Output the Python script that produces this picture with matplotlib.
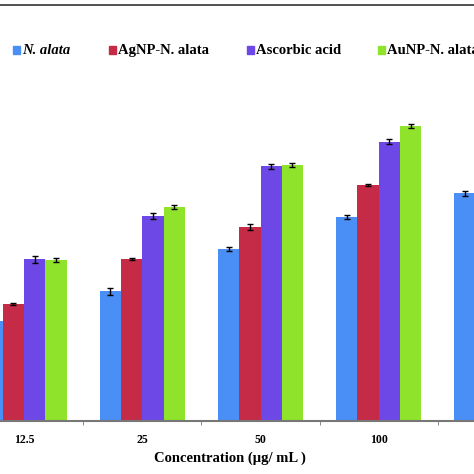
import numpy as np
import matplotlib
matplotlib.use('Agg')
import matplotlib.pyplot as plt

# --- data (% scale) ---
concentrations = ['12.5', '25', '50', '100', '200']
series_names = ['N. alata', 'AgNP-N. alata', 'Ascorbic acid', 'AuNP-N. alata']
n_alata = [24.0, 31.2, 41.3, 49.0, 54.8]
agnp = [28.1, 38.9, 46.6, 56.7, np.nan]
ascorbic = [38.9, 49.3, 61.3, 67.1, np.nan]
aunp = [38.7, 51.4, 61.5, 70.9, np.nan]
n_alata_err = [0.6, 0.8, 0.5, 0.5, 0.6]
agnp_err = [0.3, 0.3, 0.7, 0.3, np.nan]
ascorbic_err = [0.8, 0.7, 0.6, 0.6, np.nan]
aunp_err = [0.4, 0.5, 0.5, 0.5, np.nan]

COLORS = ['#4a8ff5', '#c52b47', '#6e48e6', '#8fe32a']

plt.rcParams['font.family'] = 'serif'
plt.rcParams['font.serif'] = ['Liberation Serif', 'DejaVu Serif']

fig = plt.figure(figsize=(4.74, 4.74), dpi=100)
# axes deliberately larger than the figure: the reference is a crop
ax = fig.add_axes([-0.0738, 0.1118, 1.247, 0.8776])

x = np.arange(len(concentrations))
width = 0.18
all_vals = [n_alata, agnp, ascorbic, aunp]
all_errs = [n_alata_err, agnp_err, ascorbic_err, aunp_err]
for i, (vals, errs) in enumerate(zip(all_vals, all_errs)):
    ax.bar(x + (i - 1.5) * width, vals, width, color=COLORS[i],
           yerr=errs, capsize=2.2, error_kw={'elinewidth': 1.0, 'capthick': 1.0, 'ecolor': 'black'},
           label=series_names[i])

ax.set_xlim(-0.5, 4.5)
ax.set_ylim(0, 100)
ax.set_yticks([])
# the last group's label falls outside the cropped view
ax.set_xticks(x[:-1])
ax.set_xticklabels(concentrations[:-1], fontsize=8.5, fontweight='bold')
ax.set_xticks(x[:-1] + 0.5, minor=True)
ax.tick_params(axis='x', which='major', length=0, pad=9)
ax.tick_params(axis='x', which='minor', length=3, color='#777777')
for s in ['left', 'right']:
    ax.spines[s].set_visible(False)
ax.spines['bottom'].set_color('#777777')
ax.spines['bottom'].set_linewidth(1.5)
ax.spines['top'].set_color('#333333')
ax.spines['top'].set_linewidth(1.2)

fig.text(0.485, 0.034, 'Concentration (\u00b5g/ mL )', ha='center', va='center',
         fontsize=10.5, fontweight='bold')

# legend row
text_x = [0.046, 0.249, 0.540, 0.816]
for i, name in enumerate(series_names):
    fig.patches.append(plt.Rectangle((text_x[i] - 0.019, 0.887), 0.015, 0.015, color=COLORS[i],
                                     transform=fig.transFigure, figure=fig))
    style = 'italic' if i == 0 else 'normal'
    fig.text(text_x[i], 0.894, name, ha='left', va='center', fontsize=10.5,
             fontweight='bold', fontstyle=style)

fig.savefig('out.png', dpi=100)
